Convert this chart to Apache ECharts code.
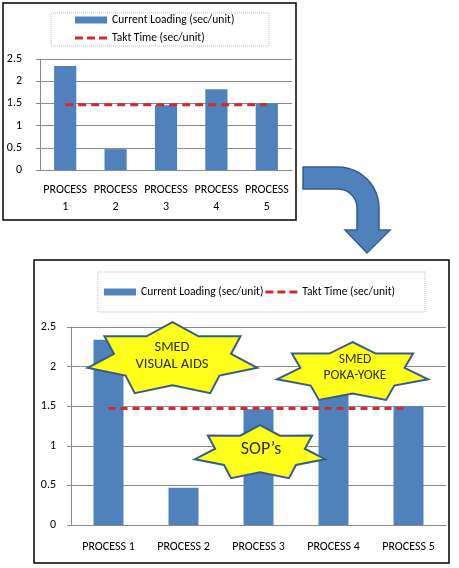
<!DOCTYPE html>
<html>
<head>
<meta charset="utf-8">
<script src="https://cdn.jsdelivr.net/npm/echarts@6/dist/echarts.min.js"></script>
<style>
  html, body { margin: 0; padding: 0; background: #fff; }
  #chart { width: 459px; height: 568px; }
</style>
</head>
<body>
<div id="chart"></div>
<script>
// data
const processesTop = ['PROCESS\n1', 'PROCESS\n2', 'PROCESS\n3', 'PROCESS\n4', 'PROCESS\n5']
const processesBottom = ['PROCESS 1', 'PROCESS 2', 'PROCESS 3', 'PROCESS 4', 'PROCESS 5']
const currentLoading = [2.34, 0.47, 1.46, 1.82, 1.5]
const taktTime = [1.47, 1.47, 1.47, 1.47, 1.47]
const yTicks = [0, 0.5, 1, 1.5, 2, 2.5]

const loadingName = 'Current Loading (sec/unit)'
const taktName = 'Takt Time (sec/unit)'

const FONT = 'Carlito, Lato, sans-serif'
const BLUE = '#4F81BD'
const RED = '#D42A2A'
const GRID = '#8c8c8c'
// three red dashes for the legend entry of the takt line
const DASH_ICON = 'path://M0,0h8v3h-8z M12,0h8v3h-8z M24,0h8v3h-8z'

function starPoints(cx, cy, rx, ry, n, ratio) {
  const pts = []
  for (let i = 0; i < 2 * n; i++) {
    const a = -Math.PI / 2 + i * Math.PI / n
    const r = i % 2 ? ratio : 1
    pts.push([cx + Math.cos(a) * rx * r, cy + Math.sin(a) * ry * r])
  }
  return pts
}

function star(cx, cy, rx, ry) {
  return {
    type: 'polygon',
    z: 100,
    shape: { points: starPoints(cx, cy, rx, ry, 7, 0.69) },
    style: { fill: '#FFFF1A', stroke: '#385D8A', lineWidth: 2 }
  }
}

function starText(x, y, text, size, lh) {
  return {
    type: 'text',
    z: 101,
    x: x,
    y: y,
    style: {
      text: text,
      fill: '#2e2e22',
      font: size + 'px ' + FONT,
      align: 'center',
      verticalAlign: 'middle',
      lineHeight: lh
    }
  }
}

// bent arrow outline: straight part, quarter turn, arrow head
function arrowPoints() {
  const cx = 338, cy = 208, ro = 41, ri = 19
  const pts = [[303, 167]]
  for (let i = 0; i <= 12; i++) {
    const a = -Math.PI / 2 + (i / 12) * Math.PI / 2
    pts.push([cx + Math.cos(a) * ro, cy + Math.sin(a) * ro])
  }
  pts.push([379, 230], [390, 230], [367, 253], [345, 230], [357, 230])
  for (let i = 12; i >= 0; i--) {
    const a = -Math.PI / 2 + (i / 12) * Math.PI / 2
    pts.push([cx + Math.cos(a) * ri, cy + Math.sin(a) * ri])
  }
  pts.push([303, 189])
  return pts
}

function yAxisOf(idx, margin) {
  return {
    type: 'value',
    gridIndex: idx,
    min: yTicks[0],
    max: yTicks[yTicks.length - 1],
    interval: yTicks[1] - yTicks[0],
    axisLine: { show: true, lineStyle: { color: GRID } },
    axisTick: { show: true, length: 4, lineStyle: { color: GRID } },
    axisLabel: { color: '#000', fontFamily: FONT, fontSize: 12, margin: margin },
    splitLine: { lineStyle: { color: GRID } }
  }
}

function xAxisOf(idx, data, margin, lh) {
  return {
    type: 'category',
    gridIndex: idx,
    data: data,
    axisLine: { lineStyle: { color: GRID } },
    axisTick: { length: 5, lineStyle: { color: GRID } },
    axisLabel: { color: '#000', fontFamily: FONT, fontSize: 12, margin: margin, lineHeight: lh, interval: 0 }
  }
}

const legendText = { color: '#000', fontFamily: FONT, fontSize: 11.5, lineHeight: 14 }

const chartOption = {
  animation: false,
  backgroundColor: '#fff',
  grid: [
    { left: 40, right: 167, top: 59, bottom: 398 },
    { left: 71, right: 13, top: 327, bottom: 43 }
  ],
  xAxis: [
    xAxisOf(0, processesTop, 11, 17),
    xAxisOf(1, processesBottom, 15, 14)
  ],
  yAxis: [yAxisOf(0, 18), yAxisOf(1, 15)],
  legend: [
    {
      orient: 'vertical',
      left: 75,
      top: 13,
      itemWidth: 32,
      itemHeight: 7,
      itemGap: 4,
      padding: 0,
      textStyle: legendText,
      data: [{ name: loadingName, icon: 'rect' }, { name: taktName, icon: DASH_ICON }]
    },
    {
      orient: 'horizontal',
      left: 104,
      top: 285,
      itemWidth: 32,
      itemHeight: 7,
      itemGap: 2,
      padding: 0,
      textStyle: legendText,
      data: [{ name: loadingName, icon: 'rect' }, { name: taktName, icon: DASH_ICON }]
    }
  ],
  series: [
    {
      name: loadingName, type: 'bar', xAxisIndex: 0, yAxisIndex: 0,
      data: currentLoading, barWidth: '44%', itemStyle: { color: BLUE }
    },
    {
      name: taktName, type: 'line', xAxisIndex: 0, yAxisIndex: 0,
      data: taktTime, symbol: 'none', itemStyle: { color: RED },
      lineStyle: { color: RED, width: 3, type: [8, 5] }
    },
    {
      name: loadingName, type: 'bar', xAxisIndex: 1, yAxisIndex: 1,
      data: currentLoading, barWidth: '40%', itemStyle: { color: BLUE }
    },
    {
      name: taktName, type: 'line', xAxisIndex: 1, yAxisIndex: 1,
      data: taktTime, symbol: 'none', itemStyle: { color: RED },
      lineStyle: { color: RED, width: 3, type: [7, 5] }
    }
  ],
  graphic: [
    // frames
    { type: 'rect', shape: { x: 3, y: 3, width: 293, height: 217 }, style: { fill: 'none', stroke: '#000', lineWidth: 1.5 } },
    { type: 'rect', shape: { x: 34, y: 260, width: 415, height: 303 }, style: { fill: 'none', stroke: '#000', lineWidth: 1.5 } },
    // legend boxes
    { type: 'rect', shape: { x: 51, y: 13, width: 218, height: 33 }, style: { fill: 'none', stroke: '#bfbfbf', lineWidth: 1, lineDash: [1, 1] } },
    { type: 'rect', shape: { x: 98, y: 272, width: 327, height: 40 }, style: { fill: 'none', stroke: '#bfbfbf', lineWidth: 1, lineDash: [1, 1] } },
    // curved arrow
    {
      type: 'polygon',
      z: 50,
      shape: { points: arrowPoints() },
      style: { fill: BLUE, stroke: '#385D8A', lineWidth: 1.5 }
    },
    // annotation stars
    star(172.5, 359.5, 87, 37.3),
    starText(172, 356, 'SMED\nVISUAL AIDS', 14.5, 17),
    star(352.5, 372.5, 77.5, 30.5),
    starText(355, 368, 'SMED\nPOKA-YOKE', 13.5, 16),
    star(260, 453, 66.7, 27.9),
    starText(261, 449, 'SOP\u2019s', 18, 20)
  ]
}

const myChart = echarts.init(document.getElementById('chart'))
myChart.setOption(chartOption)
</script>
</body>
</html>
